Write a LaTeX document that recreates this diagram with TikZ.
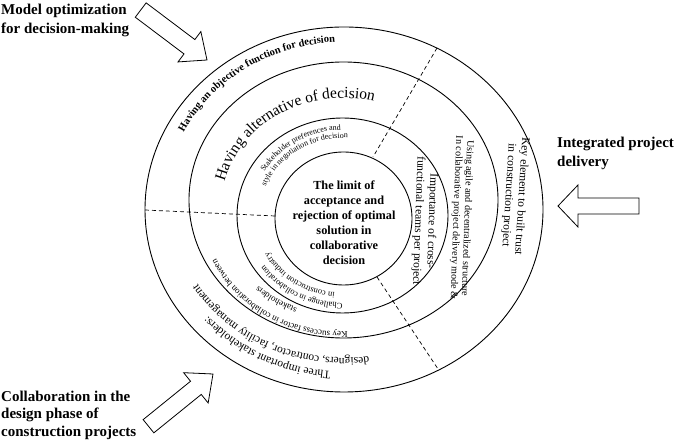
\documentclass[tikz,border=0pt]{standalone}
\usepackage{fontspec}
\setmainfont{Liberation Serif}
\usetikzlibrary{decorations.text}
\newcommand{\fsz}[2]{\fontsize{#1}{#2}\selectfont}
% centre x, centre y, x radius, y radius, middle angle, text
\newcommand{\arctext}[6]{%
  \path[decorate,decoration={text along path,text align=center,text={#6}}]
    (#1,#2) ++({#3*cos(#5+80)},{#4*sin(#5+80)})
    arc[start angle=#5+80,end angle=#5-80,x radius=#3,y radius=#4];}
\begin{document}
\begin{tikzpicture}[x=1pt,y=1pt,
  ring/.style={line width=0.9pt},
  divider/.style={line width=0.7pt,dash pattern=on 4pt off 3pt},
  label/.style={font=\bfseries\fsz{15}{19},align=left,inner sep=0pt},
  blockarrow/.style={draw,line width=0.8pt,fill=white},
  side/.style={align=center,inner sep=0pt}]
\useasboundingbox (0,0) rectangle (685,446);

\draw[ring] (344,236.5) ellipse[x radius=199,y radius=182.5];
\draw[ring] (343.5,246) ellipse[x radius=154.5,y radius=138];
\draw[ring] (342.5,230.5) ellipse[x radius=105.5,y radius=97.5];
\draw[ring] (343.5,227.5) ellipse[x radius=68.5,y radius=66.5];

\coordinate (dl1) at (145,236);  \coordinate (dl2) at (275,230);
\coordinate (du1) at (437,398);  \coordinate (du2) at (373,289);
\coordinate (dd1) at (377,169);  \coordinate (dd2) at (438,77);
\draw[divider] (dl1) -- (dl2);
\draw[divider] (du1) -- (du2);
\draw[divider] (dd1) -- (dd2);

\arctext{344}{241}{179}{163}{125}{|\bfseries\fsz{10.5}{12}|Having an objective function for decision}
\arctext{343}{238}{122}{110}{122}{|\fsz{15.5}{17}|Having alternative of decision}
\arctext{343}{229}{92}{87}{121}{|\fsz{8}{9}|Stakeholder preferences and}
\arctext{343}{229}{84}{79}{123}{|\fsz{8}{9}|style in negotiation for decision}
\arctext{344}{241}{182}{167}{242}{|\fsz{11.5}{13}|Three important stakeholders:}
\arctext{344}{241}{171}{153}{243}{|\fsz{11.5}{13}|designers, contractor, facility management}
\arctext{343}{238}{139}{124}{236}{|\fsz{9}{10}|Key success factor in collaboration between}
\arctext{343}{238}{122}{108}{234}{|\fsz{9}{10}|stakeholders}
\arctext{343}{229}{95}{86}{240}{|\fsz{8.5}{10}|Challenge in collaboration}
\arctext{343}{229}{84}{76}{234}{|\fsz{8.5}{10}|in construction industry}

\node[side,rotate=-92,font=\fsz{11.5}{13.5}] (imp) at (425,225)
  {Importance of cross-\\functional teams per project};
\node[side,rotate=-92,font=\fsz{10}{11}] (agile) at (461.5,228)
  {Using agile and decentralized structure\\In collaborative project delivery mode \&};
\node[side,rotate=-93.5,font=\fsz{11.5}{13}] (trust) at (515,250)
  {Key element to built trust\\in construction project};

\node[align=center,font=\bfseries\fsz{12.3}{15}] (core) at (344,223.5)
  {The limit of\\acceptance and\\rejection of optimal\\solution in\\collaborative\\decision};

\node[label,anchor=west] (lmodel) at (1,426) {Model optimization\\for decision-making};
\node[label,anchor=west] (lipd) at (557,293) {Integrated project\\delivery};
\node[label,anchor=west,font=\bfseries\fsz{15}{17.5}] (lcollab) at (1,31)
  {Collaboration in the\\design phase of\\construction projects};

\coordinate (tipA) at (207,386);
\coordinate (tipB) at (213,72);
\coordinate (tipC) at (558,240);
\begin{scope}[shift={(tipA)},rotate=-37]
  \draw[blockarrow] (0,0) -- (-22,19) -- (-22,9) -- (-83,9) -- (-83,-9) -- (-22,-9) -- (-22,-19) -- cycle;
\end{scope}
\begin{scope}[shift={(tipB)},rotate=39]
  \draw[blockarrow] (0,0) -- (-22,19.5) -- (-22,8.5) -- (-83,8.5) -- (-83,-8.5) -- (-22,-8.5) -- (-22,-19.5) -- cycle;
\end{scope}
\begin{scope}[shift={(tipC)},rotate=180]
  \draw[blockarrow] (0,0) -- (-20,21) -- (-20,8) -- (-81,8) -- (-81,-8) -- (-20,-8) -- (-20,-21) -- cycle;
\end{scope}
\end{tikzpicture}
\end{document}
